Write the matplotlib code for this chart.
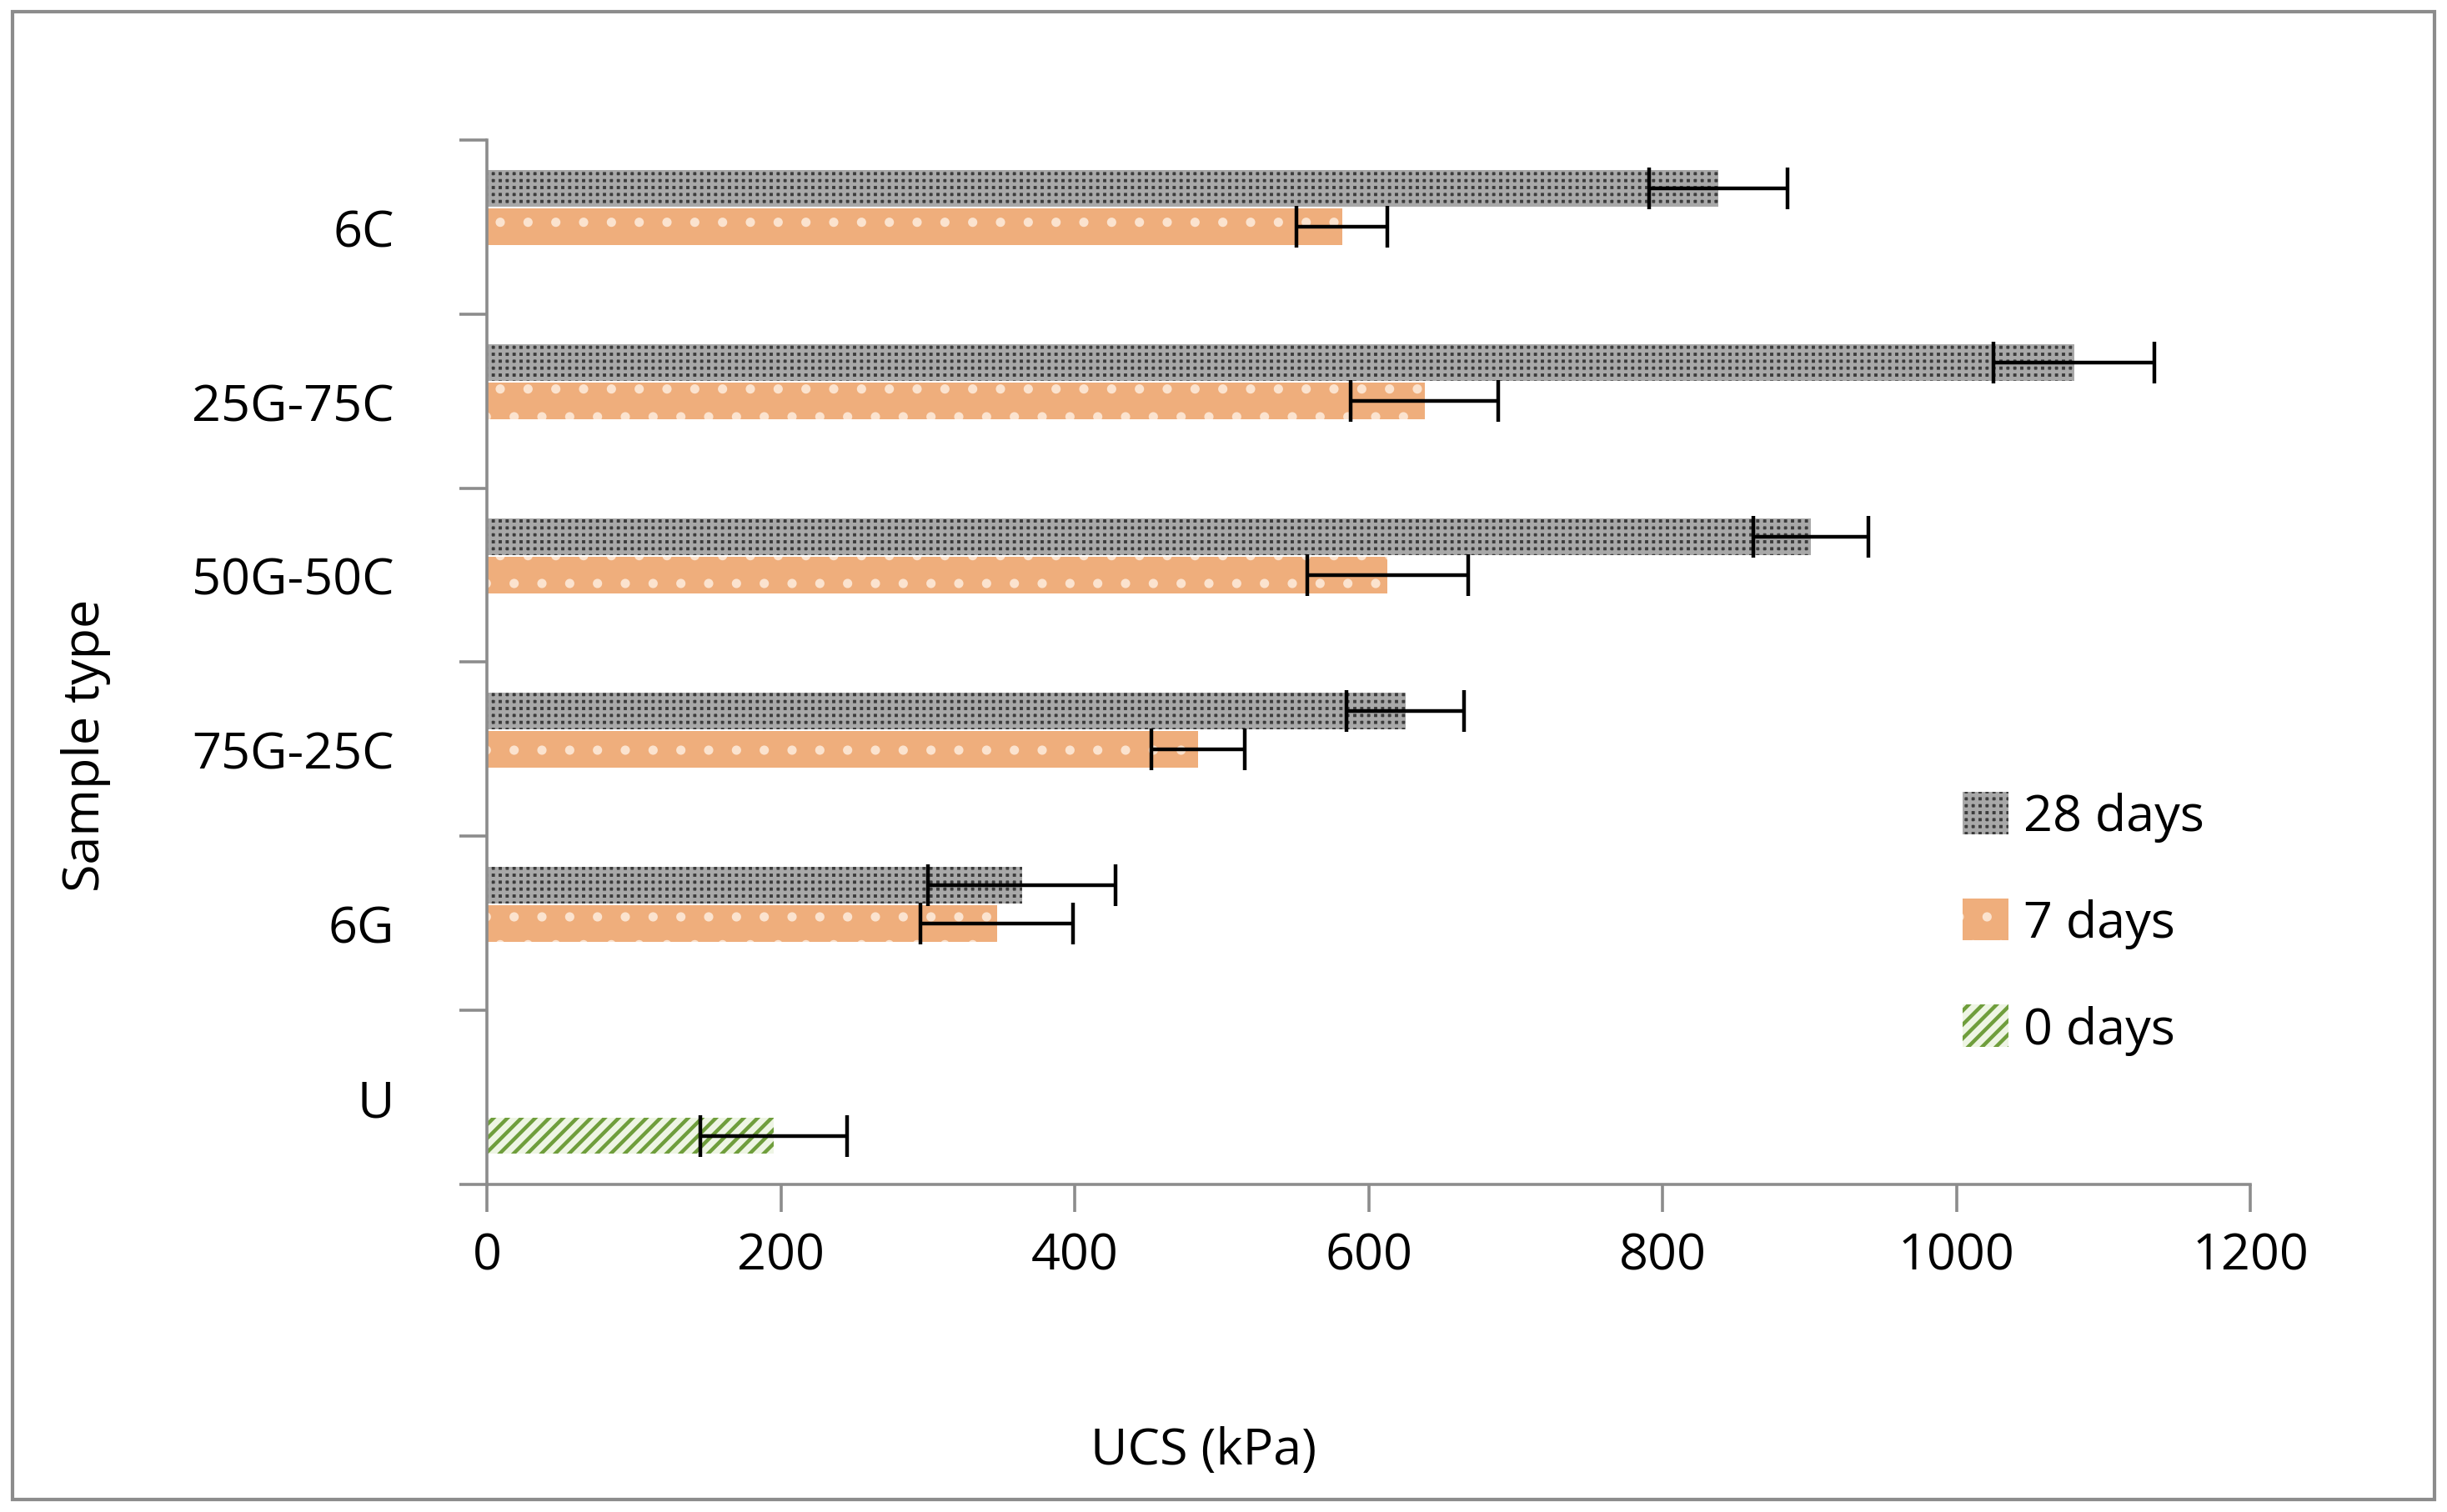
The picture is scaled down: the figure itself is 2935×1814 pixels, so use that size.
import matplotlib.pyplot as plt
import numpy as np
from matplotlib.patches import Rectangle

plt.rcParams['font.family'] = ['Open Sans', 'DejaVu Sans']
plt.rcParams['hatch.linewidth'] = 1.6

categories = ['U', '6G', '75G-25C', '50G-50C', '25G-75C', '6C']
d28 = [np.nan, 364, 625, 901, 1080, 838]
d28_err = [np.nan, 64, 40, 39, 55, 47]
d7 = [np.nan, 347, 484, 613, 638, 582]
d7_err = [np.nan, 52, 32, 55, 50, 31]
d0 = [195, np.nan, np.nan, np.nan, np.nan, np.nan]
d0_err = [50, np.nan, np.nan, np.nan, np.nan, np.nan]

fig = plt.figure(figsize=(14.675, 9.075), dpi=200)
fig.patches.append(Rectangle((0.005, 0.008), 0.99, 0.984, transform=fig.transFigure,
                             fill=False, edgecolor='#8c8c8c', linewidth=1.5))
ax = fig.add_axes([0.199, 0.2165, 0.7206, 0.6905])

y = np.arange(len(categories))
h = 0.21
err_kw = dict(ecolor='black', capsize=9, elinewidth=1.6, capthick=1.6)
ax.barh(y + 0.22, d28, height=h, xerr=d28_err, color='#3c3c3c', hatch='++++',
        edgecolor='#a8a8a8', linewidth=0, error_kw=err_kw, label='28 days')
ax.barh(y, d7, height=h, xerr=d7_err, color='#efae7c', hatch='.',
        edgecolor='#fbe3cf', linewidth=0, error_kw=err_kw, label='7 days')
ax.barh(y - 0.22, d0, height=h, xerr=d0_err, color='#eef5e4', hatch='////',
        edgecolor='#6f9e3c', linewidth=0, error_kw=err_kw, label='0 days')

ax.set_xlim(0, 1200)
ax.set_ylim(-0.5, len(categories) - 0.5)
ax.set_xticks(np.arange(0, 1201, 200))
ax.set_yticks(y)
ax.set_yticklabels(categories)
ax.set_yticks(np.arange(-0.5, len(categories)), minor=True)
ax.tick_params(axis='y', which='major', length=0, pad=40, labelsize=22)
ax.tick_params(axis='y', which='minor', length=12, color='#8c8c8c', width=1.3)
ax.tick_params(axis='x', length=12, color='#8c8c8c', width=1.3, labelsize=22, pad=8)
for s in ['top', 'right']:
    ax.spines[s].set_visible(False)
for s in ['left', 'bottom']:
    ax.spines[s].set_color('#8c8c8c')
    ax.spines[s].set_linewidth(1.3)

ax.legend(loc='lower right', bbox_to_anchor=(1.0, 0.08), frameon=False, fontsize=22,
          handlelength=0.9, handleheight=0.9, handletextpad=0.3, labelspacing=1.1)

fig.text(0.492, 0.041, 'UCS (kPa)', fontsize=22, ha='center', va='center')
fig.text(0.035, 0.507, 'Sample type', fontsize=22, ha='center', va='center', rotation=90)

fig.savefig('out.png', dpi=200)
